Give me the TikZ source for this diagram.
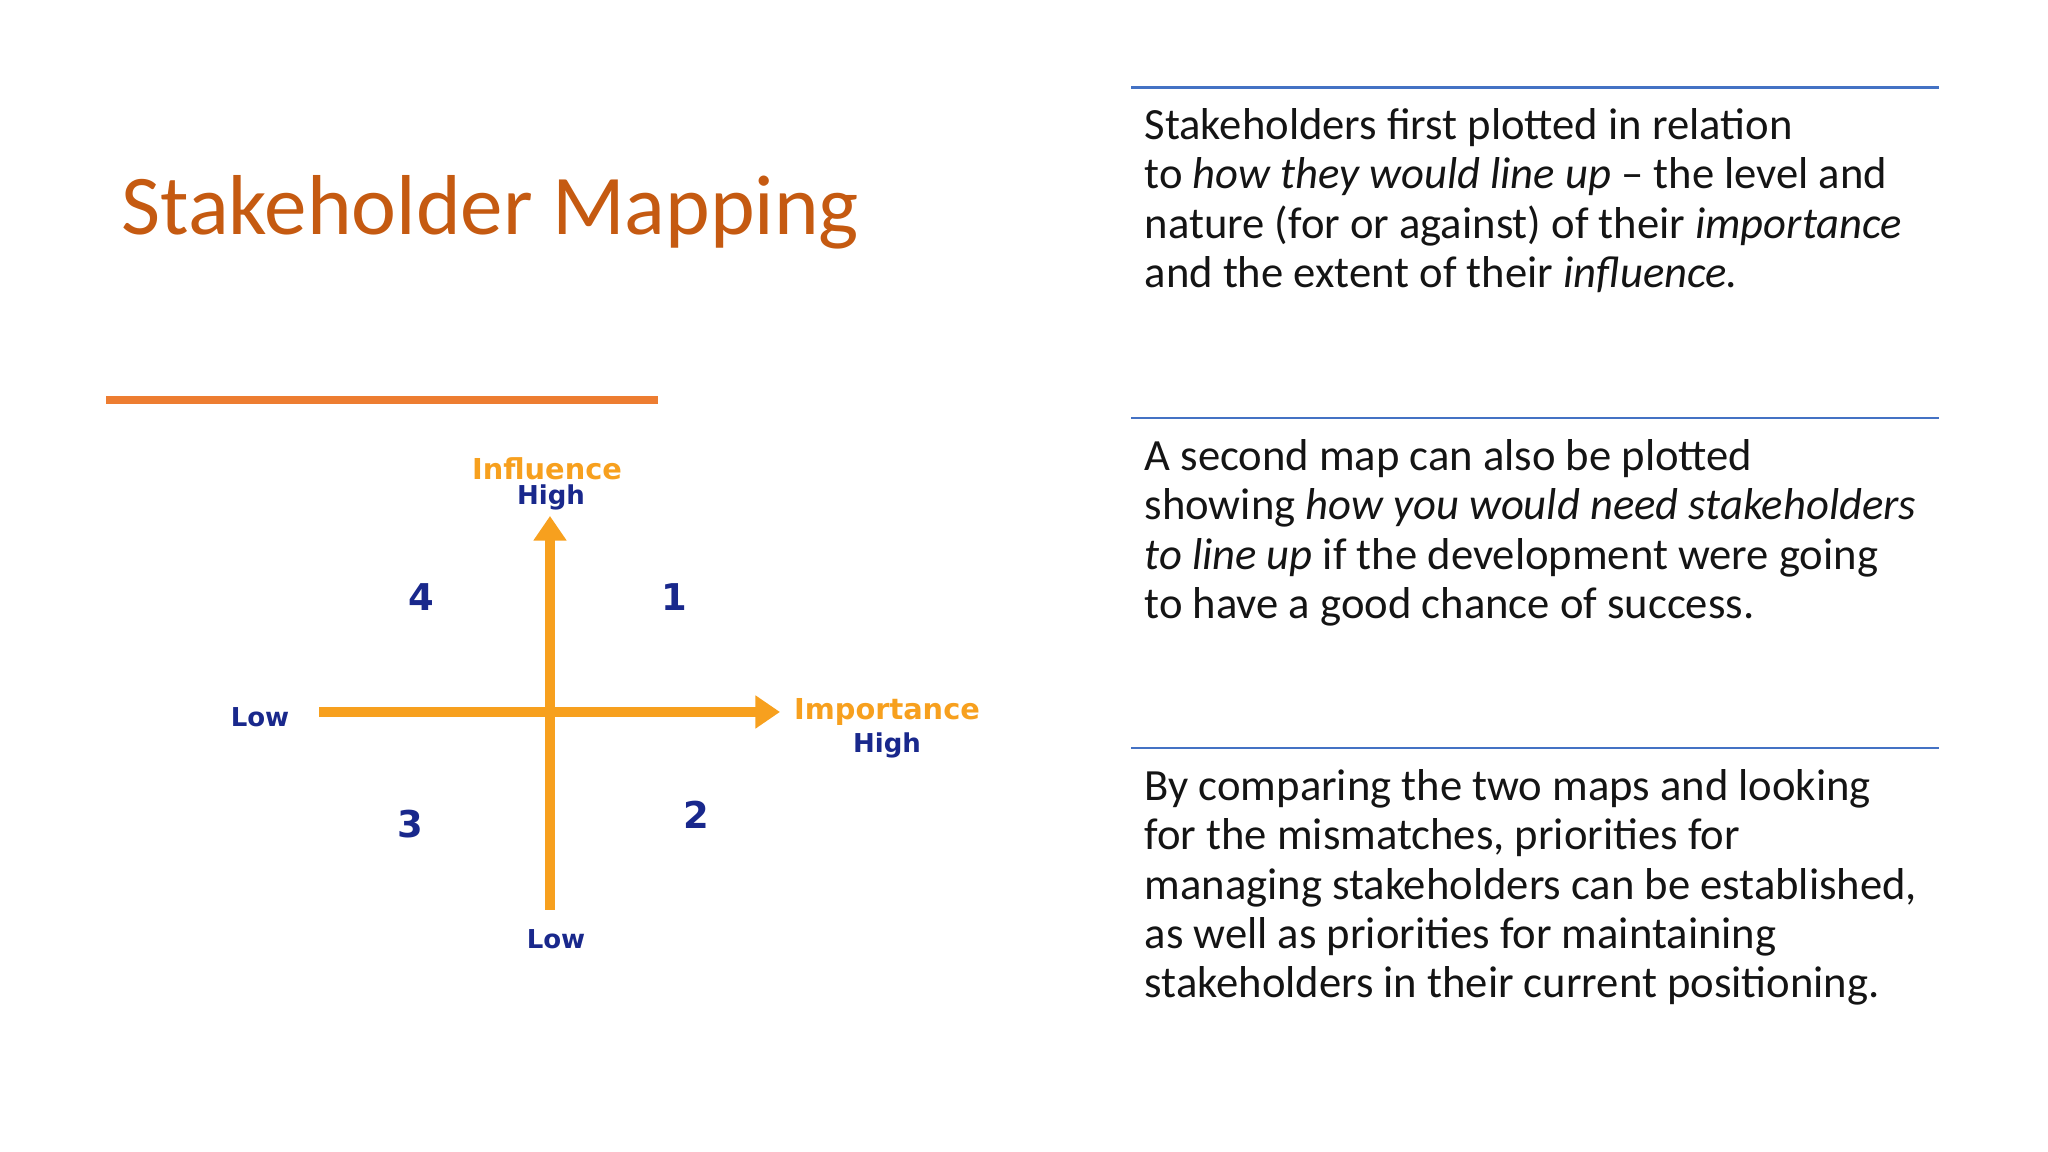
\documentclass[tikz,border=0pt]{standalone}
\usepackage{fontspec}
\setmainfont{Carlito}
\newfontfamily\axisfont{DejaVu Sans}
\usetikzlibrary{arrows.meta,positioning}
\definecolor{titleorange}{RGB}{197,90,17}
\definecolor{barorange}{RGB}{237,125,49}
\definecolor{axisorange}{RGB}{247,160,30}
\definecolor{rulblue}{RGB}{68,114,196}
\definecolor{labnavy}{RGB}{25,40,140}
\definecolor{textgray}{RGB}{20,20,20}
\begin{document}
\begin{tikzpicture}[
  paratext/.style={anchor=north west, inner sep=0pt, align=left, text=textgray,
    font=\fontsize{12.7}{14}\selectfont},
  axislab/.style={font=\axisfont\bfseries\fontsize{7.4}{9}\selectfont, text=labnavy, inner sep=0pt},
  axisname/.style={font=\axisfont\bfseries\fontsize{8.2}{9}\selectfont, text=axisorange, inner sep=0pt},
  quadnum/.style={font=\axisfont\bfseries\fontsize{10.5}{12}\selectfont, text=labnavy, inner sep=0pt},
  axisline/.style={axisorange, line width=2.6pt, -{Triangle[length=7pt,width=9pt]}}
]
\useasboundingbox (0,0) rectangle (20.48,11.52);
% title and bar
\node[anchor=base west, inner sep=0pt, text=titleorange, font=\fontsize{24.2}{30}\selectfont]
  (title) at (1.21,9.17) {Stakeholder Mapping};
\draw[barorange, line width=2.4pt] (1.06,7.52) -- (6.58,7.52);
% rules
\foreach \y/\n in {10.645/ruleA, 7.34/ruleB, 4.04/ruleC}{
  \draw[rulblue, line width=0.6pt] (11.31,\y) coordinate (\n) -- (19.39,\y);
}
% paragraphs
\node[paratext] (paraA) at (11.44,10.44) {Stakeholders first plotted in relation\\
to \textit{how they would line up} -- the level and\\
nature (for or against) of their \textit{importance}\\
and the extent of their \textit{influence.}};
\node[paratext] (paraB) at (11.44,7.13) {A second map can also be plotted\\
showing \textit{how you would need stakeholders}\\
\textit{to line up} if the development were going\\
to have a good chance of success.};
\node[paratext] (paraC) at (11.44,3.83) {By comparing the two maps and looking\\
for the mismatches, priorities for\\
managing stakeholders can be established,\\
as well as priorities for maintaining\\
stakeholders in their current positioning.};
% axes
\coordinate (vlow) at (5.50,2.42);
\coordinate (vhigh) at (5.50,6.36);
\coordinate (hlow) at (3.19,4.40);
\coordinate (hhigh) at (7.80,4.40);
\draw[axisline] (vlow) -- (vhigh);
\draw[axisline] (hlow) -- (hhigh);
% axis labels
\node[axisname] (influence) at (5.47,6.83) {Influence};
\node[axislab] (inflhigh) at (5.51,6.55) {High};
\node[axislab] (infllow) at (5.56,2.13) {Low};
\node[axisname] (importance) at (8.87,4.40) {Importance};
\node[axislab] (imphigh) at (8.87,4.07) {High};
\node[axislab] (implow) at (2.60,4.35) {Low};
% quadrants
\node[quadnum] (qfour) at (4.21,5.55) {4};
\node[quadnum] (qone) at (6.74,5.55) {1};
\node[quadnum] (qthree) at (4.10,3.28) {3};
\node[quadnum] (qtwo) at (6.96,3.37) {2};
\end{tikzpicture}
\end{document}
